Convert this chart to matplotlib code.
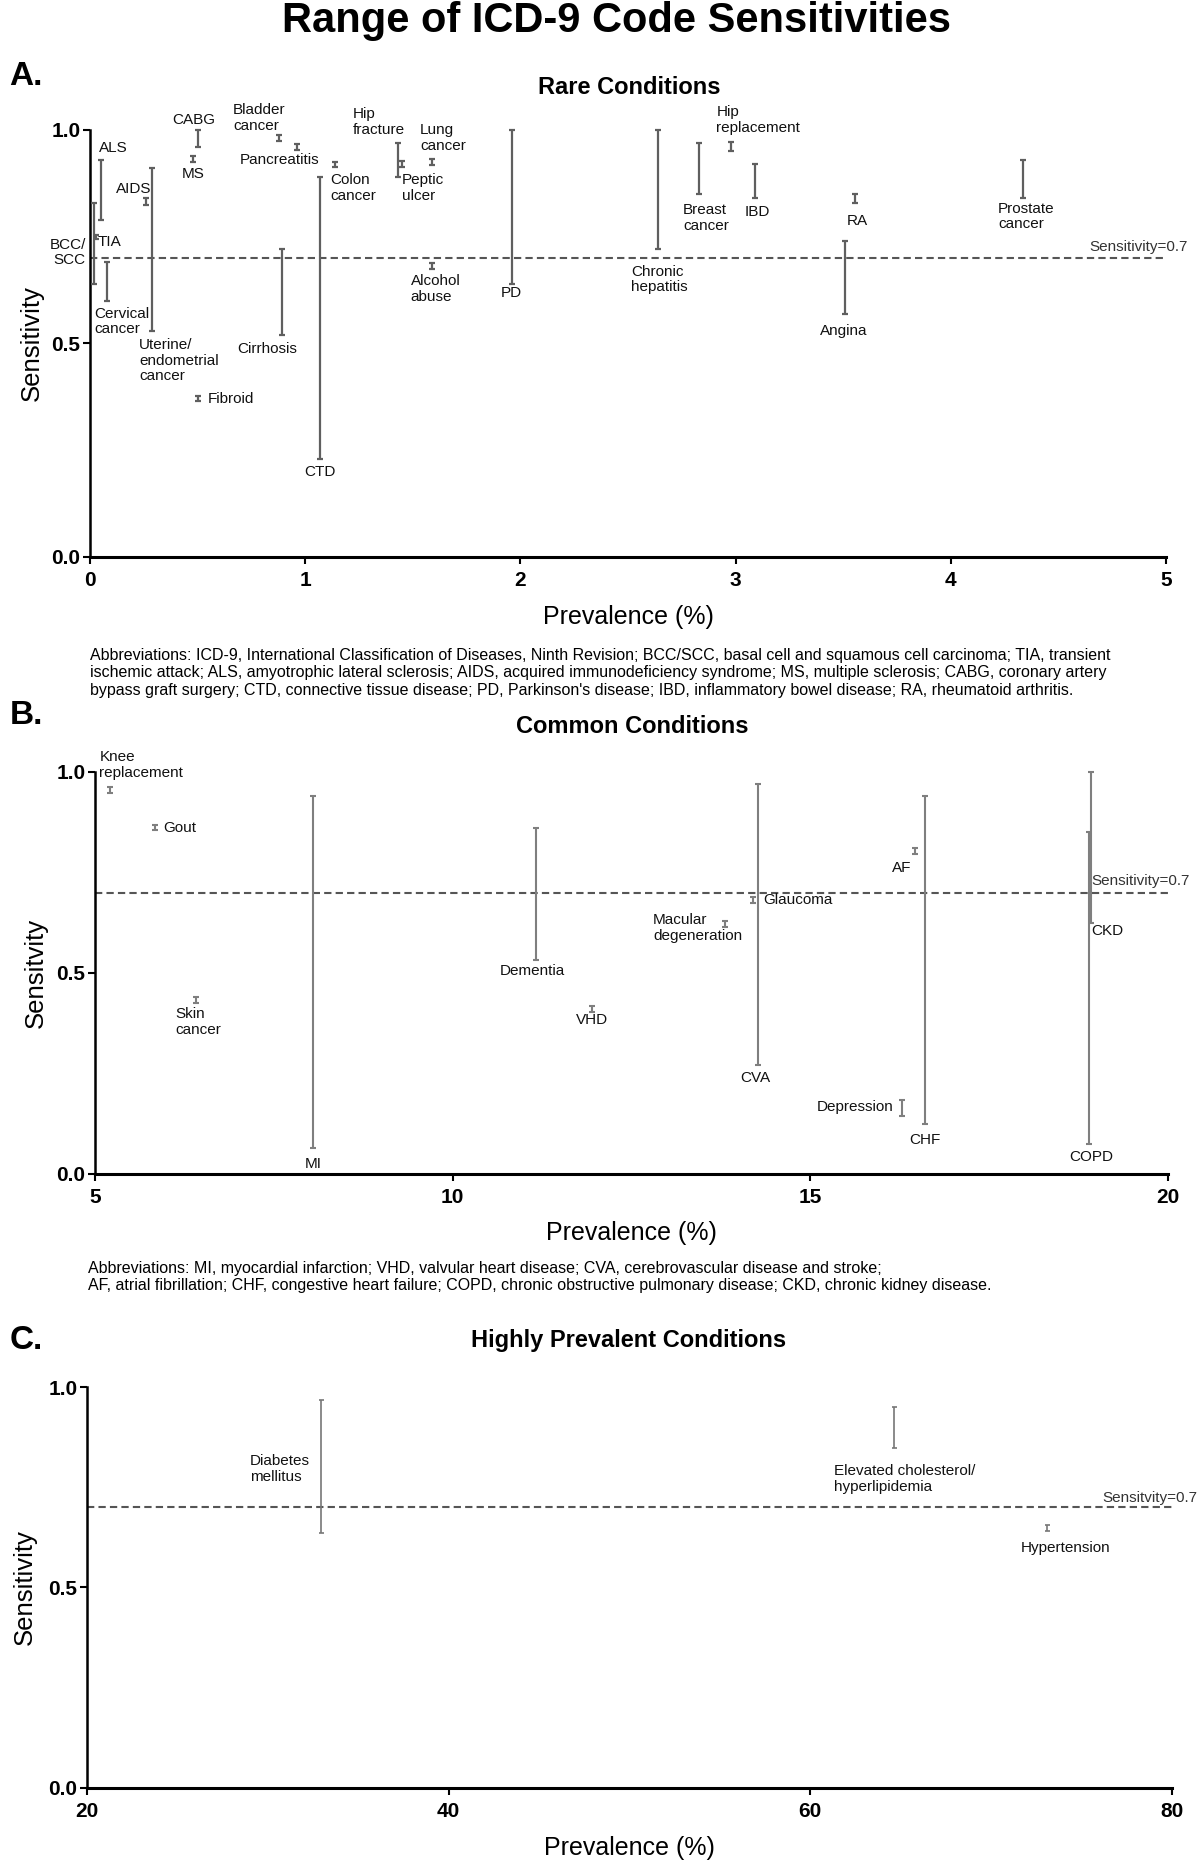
import matplotlib
matplotlib.use('Agg')
import matplotlib.pyplot as plt

plt.rcParams['font.family'] = ['Liberation Sans', 'DejaVu Sans']

# ---- data: panel A, rare conditions ----
rare_names = ['BCC/SCC', 'TIA', 'ALS', 'Cervical cancer', 'AIDS', 'Uterine/endometrial cancer',
              'CABG', 'MS', 'Fibroid', 'Bladder cancer', 'Pancreatitis', 'Cirrhosis',
              'Colon cancer', 'CTD', 'Hip fracture', 'Peptic ulcer', 'Lung cancer',
              'Alcohol abuse', 'PD', 'Chronic hepatitis', 'Breast cancer', 'Hip replacement',
              'IBD', 'RA', 'Angina', 'Prostate cancer']
rare_prev = [0.02, 0.03, 0.05, 0.08, 0.26, 0.29, 0.50, 0.48, 0.50, 0.88, 0.96, 0.89,
             1.14, 1.07, 1.43, 1.45, 1.59, 1.59, 1.96, 2.64, 2.83, 2.98, 3.09, 3.555, 3.51, 4.335]
rare_low = [0.64, 0.745, 0.79, 0.60, 0.825, 0.53, 0.96, 0.925, 0.365, 0.975, 0.953, 0.52,
            0.913, 0.23, 0.89, 0.913, 0.918, 0.675, 0.64, 0.72, 0.85, 0.95, 0.84, 0.83, 0.57, 0.84]
rare_high = [0.83, 0.755, 0.93, 0.69, 0.84, 0.91, 1.00, 0.94, 0.378, 0.988, 0.966, 0.72,
             0.926, 0.89, 0.97, 0.927, 0.932, 0.688, 1.00, 1.00, 0.97, 0.972, 0.92, 0.85, 0.74, 0.93]

# ---- data: panel B, common conditions ----
common_names = ['Knee replacement', 'Gout', 'Skin cancer', 'MI', 'Dementia', 'VHD',
                'Macular degeneration', 'Glaucoma', 'CVA', 'Depression', 'AF', 'CHF',
                'COPD', 'CKD']
common_prev = [5.21, 5.84, 6.41, 8.05, 11.16, 11.95, 13.81, 14.20, 14.27, 16.28, 16.46, 16.60,
               18.90, 18.93]
common_low = [0.948, 0.855, 0.426, 0.064, 0.532, 0.404, 0.614, 0.674, 0.272, 0.144, 0.795,
              0.124, 0.074, 0.624]
common_high = [0.962, 0.868, 0.44, 0.94, 0.861, 0.418, 0.628, 0.688, 0.97, 0.183, 0.81,
               0.941, 0.851, 1.00]

# ---- data: panel C, highly prevalent conditions ----
high_names = ['Diabetes mellitus', 'Elevated cholesterol/hyperlipidemia', 'Hypertension']
high_prev = [32.95, 64.6, 73.1]
high_low = [0.635, 0.848, 0.642]
high_high = [0.968, 0.95, 0.655]

threshold = 0.7

# ---- label placement (text, x, y, ha) ----
rare_labels = [
    ('BCC/\nSCC', -0.02, 0.713, 'right'),
    ('TIA', 0.037, 0.738, 'left'),
    ('ALS', 0.042, 0.958, 'left'),
    ('Cervical\ncancer', 0.019, 0.551, 'left'),
    ('AIDS', 0.12, 0.862, 'left'),
    ('Uterine/\nendometrial\ncancer', 0.228, 0.46, 'left'),
    ('CABG', 0.48, 1.023, 'center'),
    ('MS', 0.48, 0.897, 'center'),
    ('Fibroid', 0.545, 0.371, 'left'),
    ('Bladder\ncancer', 0.665, 1.028, 'left'),
    ('Pancreatitis', 0.695, 0.93, 'left'),
    ('Cirrhosis', 0.685, 0.488, 'left'),
    ('Colon\ncancer', 1.115, 0.864, 'left'),
    ('CTD', 1.069, 0.20, 'center'),
    ('Hip\nfracture', 1.22, 1.018, 'left'),
    ('Peptic\nulcer', 1.45, 0.864, 'left'),
    ('Lung\ncancer', 1.533, 0.981, 'left'),
    ('Alcohol\nabuse', 1.49, 0.628, 'left'),
    ('PD', 1.96, 0.619, 'center'),
    ('Chronic\nhepatitis', 2.514, 0.65, 'left'),
    ('Breast\ncancer', 2.755, 0.794, 'left'),
    ('Hip\nreplacement', 2.91, 1.023, 'left'),
    ('IBD', 3.04, 0.808, 'left'),
    ('RA', 3.565, 0.787, 'center'),
    ('Angina', 3.50, 0.528, 'center'),
    ('Prostate\ncancer', 4.22, 0.797, 'left'),
]
common_labels = [
    ('Knee\nreplacement', 5.06, 1.017, 'left'),
    ('Gout', 5.95, 0.861, 'left'),
    ('Skin\ncancer', 6.12, 0.378, 'left'),
    ('MI', 8.05, 0.025, 'center'),
    ('Dementia', 11.12, 0.505, 'center'),
    ('VHD', 11.95, 0.384, 'center'),
    ('Macular\ndegeneration', 12.8, 0.611, 'left'),
    ('Glaucoma', 14.34, 0.681, 'left'),
    ('CVA', 14.23, 0.238, 'center'),
    ('AF', 16.28, 0.76, 'center'),
    ('Depression', 16.16, 0.166, 'right'),
    ('CHF', 16.60, 0.084, 'center'),
    ('CKD', 18.93, 0.604, 'left'),
    ('COPD', 18.93, 0.042, 'center'),
]
high_labels = [
    ('Diabetes\nmellitus', 29.0, 0.795, 'left'),
    ('Elevated cholesterol/\nhyperlipidemia', 61.3, 0.77, 'left'),
    ('Hypertension', 74.1, 0.598, 'center'),
]

abbrev_a = ("Abbreviations: ICD-9, International Classification of Diseases, Ninth Revision; "
            "BCC/SCC, basal cell and squamous cell carcinoma; TIA, transient\n"
            "ischemic attack; ALS, amyotrophic lateral sclerosis; AIDS, acquired immunodeficiency "
            "syndrome; MS, multiple sclerosis; CABG, coronary artery\n"
            "bypass graft surgery; CTD, connective tissue disease; PD, Parkinson's disease; "
            "IBD, inflammatory bowel disease; RA, rheumatoid arthritis.")
abbrev_b = ("Abbreviations: MI, myocardial infarction; VHD, valvular heart disease; CVA, "
            "cerebrovascular disease and stroke;\n"
            "AF, atrial fibrillation; CHF, congestive heart failure; COPD, chronic obstructive "
            "pulmonary disease; CKD, chronic kidney disease.")


def style_axes(ax, xlim, xticks, ylabel, xlab_y, ylab_x):
    ax.set_xlim(*xlim)
    ax.set_ylim(0, 1.0)
    ax.set_xticks(xticks)
    ax.set_yticks([0, 0.5, 1.0])
    ax.set_yticklabels(['0.0', '0.5', '1.0'])
    for pos in ['top', 'right']:
        ax.spines[pos].set_visible(False)
    ax.spines['left'].set_linewidth(1.8)
    ax.spines['bottom'].set_linewidth(2.2)
    ax.tick_params(direction='out', length=5, width=1.5, labelsize=15)
    ax.tick_params(axis='x', pad=5)
    ax.tick_params(axis='y', pad=2)
    for lab in ax.get_xticklabels() + ax.get_yticklabels():
        lab.set_fontweight('bold')
    ax.set_xlabel('Prevalence (%)', fontsize=18)
    ax.set_ylabel(ylabel, fontsize=18.5)
    ax.xaxis.set_label_coords(0.5, xlab_y)
    ax.yaxis.set_label_coords(ylab_x, 0.5)


def draw_ranges(ax, prev, low, high, color, lw, cap):
    mid = [(a + b) / 2 for a, b in zip(low, high)]
    err = [(b - a) / 2 for a, b in zip(low, high)]
    ax.errorbar(prev, mid, yerr=err, fmt='none', ecolor=color, elinewidth=lw,
                capsize=cap, capthick=lw, clip_on=False, zorder=3)


def draw_labels(ax, labels, size):
    for text, x, y, ha in labels:
        ax.text(x, y, text, ha=ha, va='center', fontsize=size, color='#111111',
                linespacing=1.15, clip_on=False)


fig = plt.figure(figsize=(12, 18.64), dpi=100)

fig.text(0.514, 0.9887, 'Range of ICD-9 Code Sensitivities', ha='center', va='center',
         fontsize=30, fontweight='bold')

# panel A
ax_a = fig.add_axes([0.075, 0.7012, 0.8967, 0.2291])
ax_a.axhline(threshold, color='#555555', lw=1.5, dashes=(3.5, 2), zorder=1)
draw_ranges(ax_a, rare_prev, rare_low, rare_high, '#5f5f5f', 1.6, 2.2)
draw_labels(ax_a, rare_labels, 11)
ax_a.text(5.10, 0.727, 'Sensitivity=0.7', ha='right', va='center', fontsize=11,
          color='#333333', clip_on=False)
style_axes(ax_a, (0, 5), [0, 1, 2, 3, 4, 5], 'Sensitivity', -0.113, -0.043)
ax_a.set_xticklabels(['0', '1', '2', '3', '4', '5'])
fig.text(0.524, 0.9533, 'Rare Conditions', ha='center', va='center', fontsize=17,
         fontweight='bold')
fig.text(0.008, 0.9587, 'A.', ha='left', va='center', fontsize=24, fontweight='bold')
fig.text(0.075, 0.6390, abbrev_a, ha='left', va='center', fontsize=11.5, linespacing=1.2)

# panel B
ax_b = fig.add_axes([0.0792, 0.3702, 0.8941, 0.2157])
ax_b.axhline(threshold, color='#555555', lw=1.5, dashes=(3.5, 2), zorder=1)
draw_ranges(ax_b, common_prev, common_low, common_high, '#7f7f7f', 1.5, 2.0)
draw_labels(ax_b, common_labels, 11)
ax_b.text(18.93, 0.728, 'Sensitivity=0.7', ha='left', va='center', fontsize=11,
          color='#333333', clip_on=False)
style_axes(ax_b, (5, 20), [5, 10, 15, 20], 'Sensitvity', -0.116, -0.044)
fig.text(0.527, 0.6105, 'Common Conditions', ha='center', va='center', fontsize=17,
         fontweight='bold')
fig.text(0.008, 0.6164, 'B.', ha='left', va='center', fontsize=24, fontweight='bold')
fig.text(0.073, 0.3150, abbrev_b, ha='left', va='center', fontsize=11.5, linespacing=1.2)

# panel C
ax_c = fig.add_axes([0.0725, 0.0408, 0.9042, 0.2151])
ax_c.axhline(threshold, color='#555555', lw=1.5, dashes=(3.5, 2), zorder=1)
draw_ranges(ax_c, high_prev, high_low, high_high, '#777777', 1.2, 1.8)
draw_labels(ax_c, high_labels, 11)
ax_c.text(81.4, 0.722, 'Sensitvity=0.7', ha='right', va='center', fontsize=11,
          color='#333333', clip_on=False)
style_axes(ax_c, (20, 80), [20, 40, 60, 80], 'Sensitivity', -0.12, -0.046)
fig.text(0.524, 0.2806, 'Highly Prevalent Conditions', ha='center', va='center', fontsize=17,
         fontweight='bold')
fig.text(0.008, 0.2811, 'C.', ha='left', va='center', fontsize=24, fontweight='bold')

fig.savefig('out.png', dpi=100, facecolor='white')
